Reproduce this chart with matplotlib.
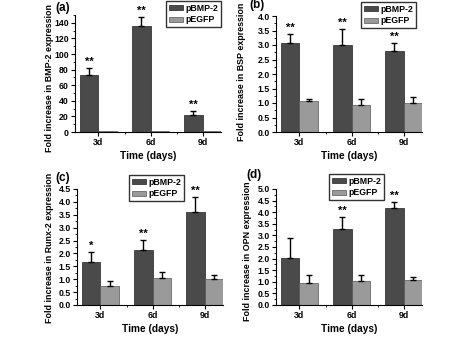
import numpy as np
import matplotlib
matplotlib.use('Agg')
import matplotlib.pyplot as plt
from matplotlib.ticker import MultipleLocator, FormatStrFormatter

plt.rcParams['font.family'] = ['Liberation Sans', 'DejaVu Sans']
plt.rcParams['font.weight'] = 'bold'

days = ['3d', '6d', '9d']
series = ['pBMP-2', 'pEGFP']

# (a) BMP-2
bmp2_p = [73, 136, 21.5]
bmp2_p_err = [9, 11.5, 5]
bmp2_e = [1.0, 1.0, 1.0]
bmp2_e_err = [0, 0, 0]
bmp2_stars = ['**', '**', '**']

# (b) BSP
bsp_p = [3.08, 2.99, 2.78]
bsp_p_err = [0.29, 0.55, 0.30]
bsp_e = [1.06, 0.93, 1.01]
bsp_e_err = [0.07, 0.22, 0.20]
bsp_stars = ['**', '**', '**']

# (c) Runx-2
runx_p = [1.65, 2.15, 3.60]
runx_p_err = [0.40, 0.36, 0.60]
runx_e = [0.74, 1.03, 1.00]
runx_e_err = [0.19, 0.25, 0.16]
runx_stars = ['*', '**', '**']

# (d) OPN
opn_p = [2.02, 3.28, 4.18]
opn_p_err = [0.88, 0.52, 0.28]
opn_e = [0.94, 1.04, 1.06]
opn_e_err = [0.35, 0.24, 0.14]
opn_stars = ['', '**', '**']

dark = '#4a4a4a'
light = '#9a9a9a'

fig = plt.figure(figsize=(4.74, 3.37), dpi=100)
W, H = 474, 337

panels = [
    (bmp2_p, bmp2_p_err, bmp2_e, bmp2_e_err, bmp2_stars, 'Fold increase in BMP-2 expression',
     150, 20, '%d', (75, 15, 132), (166, 1), '(a)', (63, 8), (50, 78)),
    (bsp_p, bsp_p_err, bsp_e, bsp_e_err, bsp_stars, 'Fold increase in BSP expression',
     4.0, 0.5, '%.1f', (276, 16, 132), (361, 2), '(b)', (257, 5), (242, 72)),
    (runx_p, runx_p_err, runx_e, runx_e_err, runx_stars, 'Fold increase in Runx-2 expression',
     4.5, 0.5, '%.1f', (77, 189, 305), (129, 175), '(c)', (63, 178), (50, 248)),
    (opn_p, opn_p_err, opn_e, opn_e_err, opn_stars, 'Fold increase in OPN expression',
     5.0, 0.5, '%.1f', (276, 189, 305), (329, 174), '(d)', (254, 175), (248, 251)),
]

x = np.arange(1, len(days) + 1)
w = 0.355
aw = 146

for (vp, ep, ve, ee, stars, ylab, ytop, major, fmt, box, leg, lab, labpos, ylpos) in panels:
    left, top, bottom = box
    ax = fig.add_axes([left / W, (H - bottom) / H, aw / W, (bottom - top) / H])
    ax.bar(x - w / 2, vp, w, color=dark, edgecolor='#222222', linewidth=0.5, label=series[0])
    ax.bar(x + w / 2, ve, w, color=light, edgecolor='#555555', linewidth=0.5, label=series[1])
    ax.errorbar(x - w / 2, vp, yerr=[np.zeros(3), ep], fmt='none', ecolor='black',
                elinewidth=1.0, capsize=2, capthick=1.0)
    ee = np.array(ee)
    has = ee > 0
    if has.any():
        ax.errorbar((x + w / 2)[has], np.array(ve)[has], yerr=[np.zeros(has.sum()), ee[has]],
                    fmt='none', ecolor='black', elinewidth=1.0, capsize=2, capthick=1.0)
    for xi, v, e, s in zip(x, vp, ep, stars):
        if s:
            ax.text(xi - w / 2, v + e + ytop * 0.01, s, ha='center', va='bottom',
                    fontsize=8, fontweight='bold')
    ax.set_xlim(0.55, 3.35)
    ax.set_ylim(0, ytop)
    ax.set_xticks(x)
    ax.set_xticklabels(days)
    ax.set_xticks([1.5, 2.5], minor=True)
    ax.yaxis.set_major_locator(MultipleLocator(major))
    ax.yaxis.set_minor_locator(MultipleLocator(major / 2))
    ax.yaxis.set_major_formatter(FormatStrFormatter(fmt))
    ax.spines['top'].set_visible(False)
    ax.spines['right'].set_visible(False)
    ax.tick_params(axis='both', which='major', labelsize=6.3, length=3, width=0.8, pad=1.5)
    ax.tick_params(axis='both', which='minor', length=1.5, width=0.6)
    ax.set_xlabel('Time (days)', fontsize=7.3, fontweight='bold', labelpad=3)
    ax.set_ylabel(ylab, fontsize=6.4, fontweight='bold', va='center')
    ax.yaxis.set_label_coords((ylpos[0] - left) / aw, (bottom - ylpos[1]) / (bottom - top))
    ax.legend(loc='upper left', bbox_to_anchor=(leg[0] / W, (H - leg[1]) / H),
              bbox_transform=fig.transFigure, fontsize=6.3, frameon=True, fancybox=False,
              edgecolor='black', handlelength=1.6, handleheight=0.5, borderpad=0.3,
              labelspacing=0.3, handletextpad=0.3, borderaxespad=0)
    fig.text(labpos[0] / W, (H - labpos[1]) / H, lab, fontsize=8.5, fontweight='bold',
             ha='center', va='center')

fig.savefig('out.png', dpi=100)
